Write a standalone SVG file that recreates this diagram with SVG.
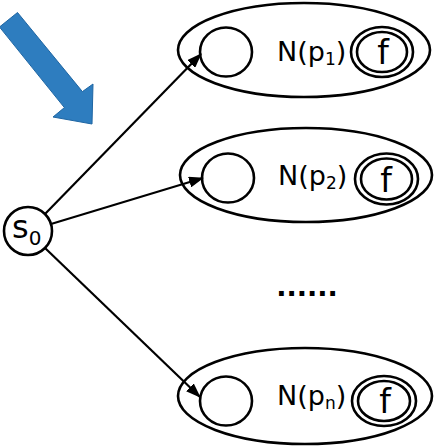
<svg xmlns="http://www.w3.org/2000/svg" width="434" height="447" viewBox="0 0 434 447">
<style>
.ln{fill:none;stroke:#000;stroke-width:2.6}
.cn{fill:none;stroke:#000;stroke-width:2.2}
.t{font-family:"DejaVu Sans",sans-serif;fill:#000}
</style>
<defs>
<marker id="ah" viewBox="0 0 15 11" refX="14" refY="5.5" markerWidth="15" markerHeight="11" markerUnits="userSpaceOnUse" orient="auto">
<path d="M0,0 L15,5.5 L0,11 Z" fill="#000"/>
</marker>
</defs>
<rect width="434" height="447" fill="#fff"/>
<polygon points="-0.5,27 17.5,12.5 82.4,91.6 93,84 92,124 53,117 64.4,107.6" fill="#2e7dbf" stroke="#1f66a3" stroke-width="1"/>
<g id="s0">
<circle cx="28" cy="231" r="24" class="ln"/>
<text x="12" y="238" class="t" font-size="32">s<tspan font-size="20" dy="7">0</tspan></text>
</g>
<g id="N1">
<ellipse cx="304" cy="50" rx="126" ry="47" class="ln"/>
<ellipse cx="226" cy="52" rx="26" ry="24.5" class="ln"/>
<text x="277" y="61" class="t" font-size="27">N(p<tspan font-size="17" dy="4">1</tspan><tspan font-size="27" dy="-4">)</tspan></text>
<ellipse cx="382" cy="52" rx="31" ry="25" class="ln"/>
<ellipse cx="382" cy="52" rx="25" ry="20" class="ln"/>
<text x="383" y="64" class="t" font-size="33" text-anchor="middle">f</text>
</g>
<g id="N2">
<ellipse cx="306" cy="175" rx="126" ry="47" class="ln"/>
<ellipse cx="228" cy="178" rx="26" ry="24.5" class="ln"/>
<text x="278" y="185" class="t" font-size="27">N(p<tspan font-size="17" dy="4">2</tspan><tspan font-size="27" dy="-4">)</tspan></text>
<ellipse cx="386.5" cy="179" rx="31.5" ry="25.5" class="ln"/>
<ellipse cx="386.5" cy="179" rx="25.5" ry="20.5" class="ln"/>
<text x="386" y="192" class="t" font-size="33" text-anchor="middle">f</text>
</g>
<g id="dots">
<text x="307" y="296" class="t" font-size="27" font-weight="bold" text-anchor="middle">......</text>
</g>
<g id="Nn">
<ellipse cx="305" cy="396" rx="127" ry="48" class="ln"/>
<ellipse cx="226" cy="401" rx="26" ry="24.5" class="ln"/>
<text x="277" y="405" class="t" font-size="27">N(p<tspan font-size="17" dy="4">n</tspan><tspan font-size="27" dy="-4">)</tspan></text>
<ellipse cx="384" cy="401" rx="32" ry="25" class="ln"/>
<ellipse cx="384" cy="401" rx="26" ry="20" class="ln"/>
<text x="385" y="413" class="t" font-size="33" text-anchor="middle">f</text>
</g>
<g id="connectors">
<line x1="45" y1="214" x2="201" y2="54" class="cn" marker-end="url(#ah)"/>
<line x1="51" y1="224" x2="203" y2="178" class="cn" marker-end="url(#ah)"/>
<line x1="45" y1="248" x2="200" y2="397" class="cn" marker-end="url(#ah)"/>
</g>
</svg>
